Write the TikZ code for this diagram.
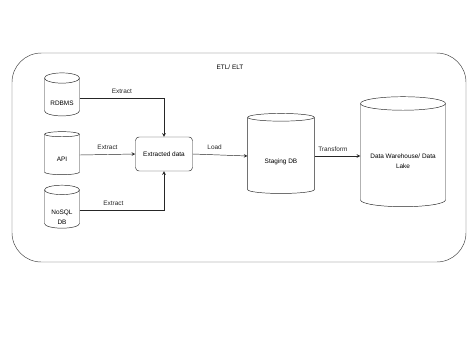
\documentclass[tikz,border=0pt]{standalone}
\usepackage{fontspec}
\setmainfont{Liberation Sans}
\usetikzlibrary{shapes.geometric}

% desce o texto dentro do cilindro sem mudar o tamanho da caixa
\newcommand{\desce}[2][4.5pt]{%
  \raisebox{-#1}[\height][\depth]{\begin{tabular}{@{}c@{}}#2\end{tabular}}}

\begin{document}
\begin{tikzpicture}[
    x=0.03cm,
    y=-0.03cm,
    banco/.style={
        draw=black!85,
        cylinder,
        shape border rotate=90,
        align=center,
        inner sep=1pt,
        font=\fontsize{5.5}{8.5}\selectfont
    },
    caixa/.style={
        draw=black!85,
        rounded corners=3pt,
        minimum width=1.71cm,
        minimum height=1.02cm,
        align=center,
        font=\fontsize{5.5}{6.5}\selectfont
    },
    rotulo/.style={
        font=\fontsize{5.5}{6.5}\selectfont,
        inner sep=2pt
    },
    seta/.style={
        ->,
        >=stealth,
        black!85
    }
]

\useasboundingbox (0,0) rectangle (474,355);

% =================================================
% MOLDURA
% =================================================

\draw[black!75, rounded corners=25pt] (12,53) rectangle (466,262);

\node[rotulo] (titulo) at (230,67)
{ETL/ ELT};

% =================================================
% FONTES
% =================================================

\node[banco, minimum width=1.05cm, minimum height=1.29cm, aspect=0.4] (rdbms) at (62,98)
{\desce{RDBMS}};

\node[banco, minimum width=1.05cm, minimum height=1.29cm, aspect=0.4] (api) at (62,155)
{\desce[3.5pt]{API}};

\node[banco, minimum width=1.05cm, minimum height=1.29cm, aspect=0.4] (nosql) at (62,210)
{\desce[6pt]{NoSQL\\DB}};

\node[caixa] (extr) at (164,154)
{Extracted data};

% =================================================
% DESTINOS
% =================================================

\node[banco, minimum width=2.0cm, minimum height=2.4cm, aspect=0.22] (staging) at (281,156)
{\desce[5pt]{Staging DB}};

\node[banco, minimum width=2.55cm, minimum height=3.3cm, aspect=0.2] (dw) at (403,156)
{\desce{Data Warehouse/ Data\\Lake}};

\draw[seta] (rdbms.east) -| node[rotulo, pos=0.25, above=2pt] {Extract} (extr.north);
\draw[seta] (api.east) -- node[rotulo, above=2pt] {Extract} (extr.west);
\draw[seta] (nosql.east) -| node[rotulo, pos=0.2, above=2pt] {Extract} (extr.south);
\draw[seta] (extr.east) -- node[rotulo, pos=0.4, above=2pt] {Load} (staging.west);
\draw[seta] (staging.east) -- node[rotulo, pos=0.4, above=2pt] {Transform} (dw.west);

\end{tikzpicture}
\end{document}
